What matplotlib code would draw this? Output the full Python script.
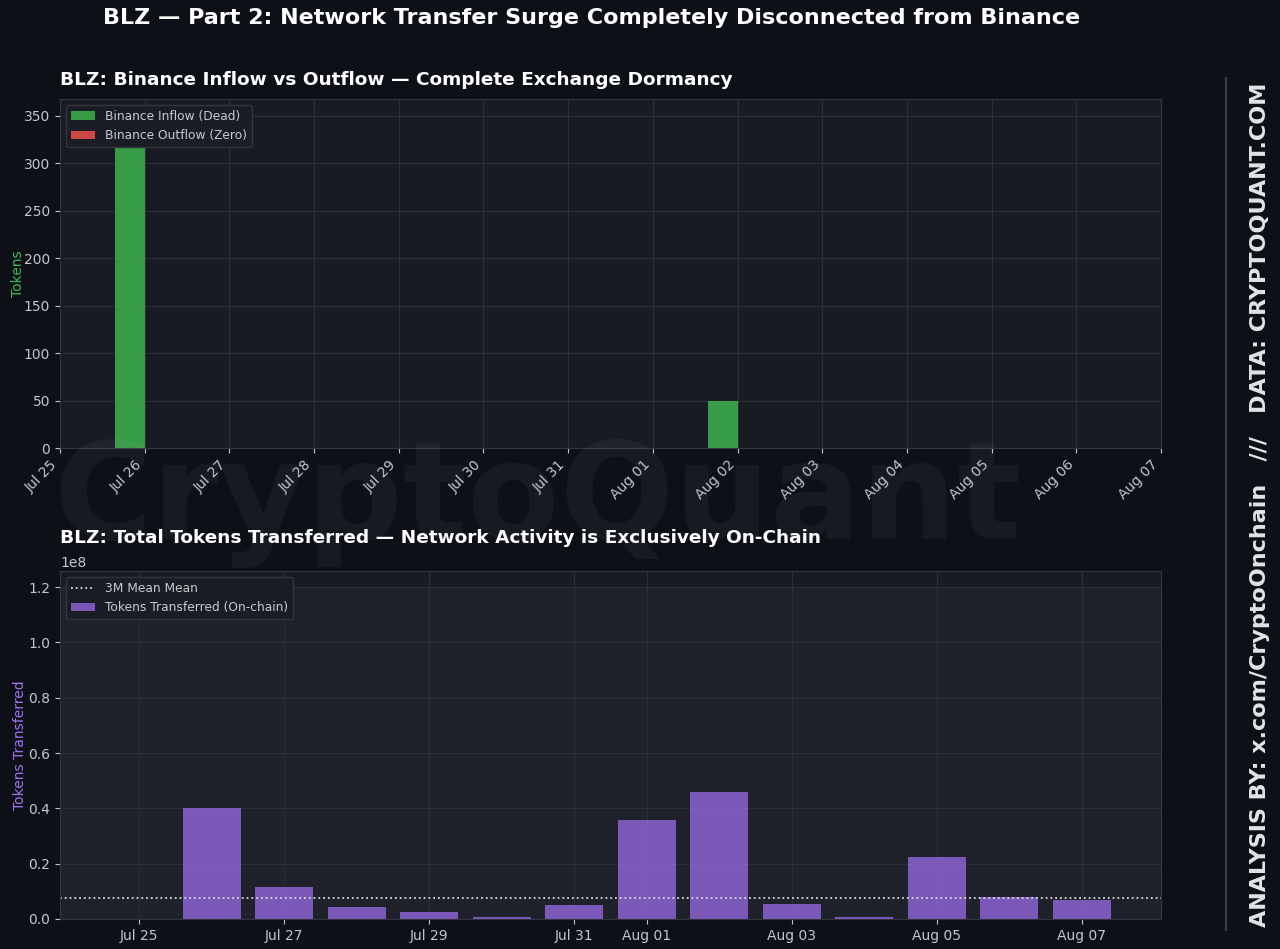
import matplotlib
matplotlib.use("Agg")
import matplotlib.pyplot as plt
import matplotlib.dates as mdates
import numpy as np
import pandas as pd

# ---------------- data ----------------
dates = pd.date_range("2025-07-25", "2025-08-07", freq="D")
inflow = [0, 350, 0, 0, 0, 0, 0, 0, 50, 0, 0, 0, 0, 0]
outflow = [0, 0, 0, 0, 0, 0, 0, 0, 0, 0, 0, 0, 0, 0]
transferred = [0, 0.402e8, 0.115e8, 0.043e8, 0.025e8, 0.006e8, 0.051e8,
               0.358e8, 0.459e8, 0.053e8, 0.009e8, 0.224e8, 0.079e8, 0.068e8]
mean_3m = 0.076e8

# ---------------- style ----------------
FIG_BG = "#0d1017"
AX1_BG = "#181b22"
AX2_BG = "#1f222a"
GRID = "#2c2f37"
SPINE = "#33363e"
TICK = "#c3c6cc"
GREEN = "#3fb950"
RED = "#f85149"
PURPLE = "#a371f7"

plt.rcParams["font.family"] = ["DejaVu Sans"]

fig = plt.figure(figsize=(12.8, 9.49), dpi=100, facecolor=FIG_BG)
ax1 = fig.add_axes([60 / 1280, 1 - 448 / 949, 1101 / 1280, 349 / 949])
ax2 = fig.add_axes([60 / 1280, 1 - 919 / 949, 1101 / 1280, 348 / 949])

for ax, bg in ((ax1, AX1_BG), (ax2, AX2_BG)):
    ax.set_facecolor(bg)
    for s in ax.spines.values():
        s.set_color(SPINE)
    ax.tick_params(colors=TICK, labelsize=10)
    ax.grid(True, color=GRID, linewidth=0.8)
    ax.set_axisbelow(True)

# ---------------- top chart ----------------
x = mdates.date2num(dates)
w = 0.35
ax1.bar(x - w / 2, inflow, width=w, color=GREEN, alpha=0.82,
        label="Binance Inflow (Dead)")
ax1.bar(x + w / 2, outflow, width=w, color=RED, alpha=0.82,
        label="Binance Outflow (Zero)")
ax1.set_xlim(x[0], x[-1])
ax1.set_ylim(0, 367.5)
ax1.xaxis.set_major_locator(mdates.DayLocator())
ax1.xaxis.set_major_formatter(mdates.DateFormatter("%b %d"))
plt.setp(ax1.get_xticklabels(), rotation=45, ha="right")
ax1.set_ylabel("Tokens", color=GREEN, fontsize=10, labelpad=-1)
ax1.set_title("BLZ: Binance Inflow vs Outflow — Complete Exchange Dormancy",
              loc="left", color="white", fontsize=13.3, fontweight="bold", pad=10)
ax1.legend(loc="upper left", fontsize=8.8, facecolor="#1a1d24",
           edgecolor="#33363e", labelcolor="#c8cad0", framealpha=1)

# ---------------- bottom chart ----------------
ax2.axhspan(1.2e8, 1.26e8, color="#181b21", zorder=0.5, linewidth=0)
ax2.bar(dates, transferred, width=0.8, color=PURPLE, alpha=0.7,
        label="Tokens Transferred (On-chain)")
ax2.axhline(mean_3m, color="#d8dade", linestyle=":", linewidth=1.3,
            label="3M Mean Mean")
ax2.set_ylim(0, 1.258e8)
ax2.xaxis.set_major_locator(mdates.AutoDateLocator())
ax2.xaxis.set_major_formatter(mdates.DateFormatter("%b %d"))
ax2.yaxis.get_offset_text().set_color(TICK)
ax2.yaxis.get_offset_text().set_fontsize(10)
ax2.set_ylabel("Tokens Transferred", color=PURPLE, fontsize=10, labelpad=1)
ax2.set_title("BLZ: Total Tokens Transferred — Network Activity is Exclusively On-Chain",
              loc="left", color="white", fontsize=13.3, fontweight="bold", pad=20)
ax2.legend(loc="upper left", fontsize=8.8, facecolor="#1a1d24",
           edgecolor="#33363e", labelcolor="#c8cad0", framealpha=1)

# ---------------- figure texts ----------------
fig.text(592 / 1280, 1 - 18 / 949,
         "BLZ — Part 2: Network Transfer Surge Completely Disconnected from Binance",
         ha="center", va="center", color="white", fontsize=16, fontweight="bold")

fig.text(537 / 1280, 1 - 502 / 949, "CryptoQuant", ha="center", va="center",
         fontsize=97, fontweight="bold", color="#c0c4cc", alpha=0.06, zorder=10)

fig.add_artist(plt.Line2D([1226 / 1280, 1226 / 1280], [1 - 930 / 949, 1 - 78 / 949],
                          color="#3a3d45", linewidth=1.5))
fig.text(1260 / 1280, 1 - 505 / 949,
         "ANALYSIS BY: x.com/CryptoOnchain   ///   DATA: CRYPTOQUANT.COM",
         rotation=90, ha="center", va="center", color="#e2e4e8",
         fontsize=16, fontweight="bold")

fig.savefig("out.png", dpi=100, facecolor=FIG_BG)
